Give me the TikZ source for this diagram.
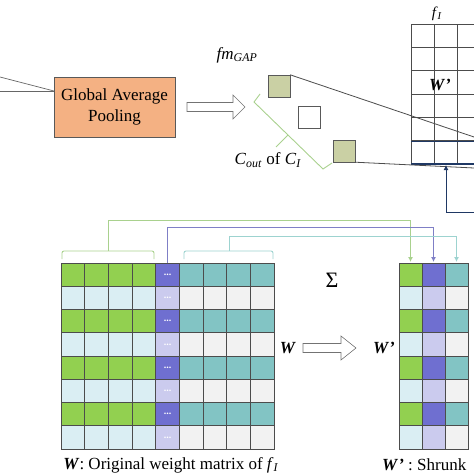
\documentclass[tikz,border=0pt]{standalone}
\usepackage{fontspec}
\setmainfont{Liberation Serif}
\usetikzlibrary{arrows.meta, positioning}

\definecolor{gapfill}{HTML}{F4B183}
\definecolor{sqfill}{HTML}{CAD0A4}
\definecolor{brgreen}{HTML}{A9D18E}
\definecolor{brblue}{HTML}{7F7FC6}
\definecolor{brteal}{HTML}{9DD3D0}
\definecolor{cgreen}{HTML}{92D050}
\definecolor{cpurple}{HTML}{6F6FD0}
\definecolor{cteal}{HTML}{82C4C4}
\definecolor{clblue}{HTML}{DAEEF3}
\definecolor{cllav}{HTML}{CBCBEE}
\definecolor{clgray}{HTML}{F2F2F2}
\definecolor{navy}{HTML}{1F3864}

\tikzset{
  big/.style={font=\fontsize{17}{21}\selectfont},
  gapbox/.style={draw=black!65, fill=gapfill, minimum width=121pt, minimum height=60pt, align=center, big},
  sqbox/.style={draw=black!65, minimum size=22pt, inner sep=0pt},
  hollow/.style={draw=black!55, fill=white, line width=0.6pt},
  thinline/.style={draw=black!60, line width=0.7pt},
  gbrack/.style={draw=brgreen, line width=0.9pt},
  bbrack/.style={draw=brblue, line width=0.9pt},
  tbrack/.style={draw=brteal, line width=0.9pt},
  cell/.style={draw=black!70, line width=0.6pt},
  dots/.style={text=white, font=\fontsize{10}{10}\bfseries\selectfont, inner sep=0pt},
  tip/.style={-{Latex[length=5pt,width=5pt]}}
}

\begin{document}
\begin{tikzpicture}[x=1pt, y=-1pt]
\useasboundingbox (0,0) rectangle (474,474);

    % Global average pooling
    \node[gapbox] (gap) at (114.5,107) {Global Average\\Pooling};
    \coordinate (gapin) at (54,91);
    \coordinate (in1) at (0,77);
    \coordinate (in2) at (0,91);
    \draw[thinline] (in1) -- (gapin);
    \draw[thinline] (in2) -- (gapin);

    % Hollow arrow
    \draw[hollow] (187,102.5) -- (233,102.5) -- (233,95) -- (245,107) -- (233,119) -- (233,111.5) -- (187,111.5) -- cycle;

    % fm_GAP
    \node[big] (fmlab) at (237,55) {\textit{fm}\textsubscript{\textit{GAP}}};
    \node[sqbox, fill=sqfill] (sq1) at (279,86) {};
    \node[sqbox, fill=white] (sq2) at (309.5,117.5) {};
    \node[sqbox, fill=sqfill] (sq3) at (344,151) {};
    \draw[gbrack] (260,94) -- (254,102) -- (323,169) -- (332,163);
    \draw[gbrack] (288,135) -- (276,147);
    \node[big] (cout) at (268,160) {\textit{C}\textsubscript{\textit{out}} of \textit{C}\textsubscript{\textit{I}}};

    % Grid of f1
    \foreach \k in {0,...,6} {
        \draw[cell] (411,24+\k*23.33) -- (474,24+\k*23.33);
    }
    \foreach \c in {0,1,2} {
        \draw[cell] (411+\c*23.3,24) -- (411+\c*23.3,164);
    }
    \draw[navy, line width=0.9pt] (411,141) -- (474,141);
    \draw[navy, line width=1.4pt] (411,164) -- (474,164);
    \node[font=\fontsize{15}{15}\selectfont] (flab) at (437,14) {\textit{f}\textsubscript{\textit{I}}};
    \node[big] (wtop) at (440,85) {\textbf{\textit{W\kern1pt’}}};

    % Lines from the maps
    \coordinate (e1) at (474,137);
    \coordinate (e2) at (474,168);
    \draw[black!70, line width=0.8pt] (sq1.north east) -- (e1);
    \draw[black!70, line width=0.8pt] (sq3.south east) -- (e2);

    % Navy feedback
    \coordinate (nin) at (474,212);
    \coordinate (fbot) at (446,165);
    \draw[navy, line width=1pt, tip] (nin) -| (fbot);

    % Matrices W and W'
    \foreach \r in {0,...,7} {
        \ifodd\r\relax
            \def\ca{clblue}\def\cb{cllav}\def\cc{clgray}
        \else
            \def\ca{cgreen}\def\cb{cpurple}\def\cc{cteal}
        \fi
        \foreach \c in {0,...,3} {
            \draw[cell, fill=\ca] (61+\c*23.67,263+\r*23.25) rectangle ++(23.67,23.25);
        }
        \draw[cell, fill=\cb] (155.68,263+\r*23.25) rectangle ++(23.67,23.25) node[midway, dots] {...};
        \foreach \c in {5,...,8} {
            \draw[cell, fill=\cc] (61+\c*23.67,263+\r*23.25) rectangle ++(23.67,23.25);
        }
        % shrunk
        \draw[cell, fill=\ca] (399,263+\r*23.25) rectangle ++(23,23.25);
        \draw[cell, fill=\cb] (422,263+\r*23.25) rectangle ++(23,23.25);
        \draw[cell, fill=\cc] (445,263+\r*23.25) rectangle ++(23,23.25);
    }

    % Brackets and connections
    \coordinate (gtar) at (410.5,262);
    \coordinate (btar) at (433.5,262);
    \coordinate (ttar) at (456.5,262);
    \draw[gbrack, rounded corners=2pt] (62,259) -- (62,251) -- (154,251) -- (154,259);
    \draw[gbrack, tip] (108,251) -- (108,220) -| (gtar);
    \draw[bbrack, tip] (167.5,263) -- (167.5,227) -| (btar);
    \draw[tbrack, rounded corners=2pt] (184,259) -- (184,251) -- (273,251) -- (273,259);
    \draw[tbrack, tip] (229,251) -- (229,236) -| (ttar);

    % Sigma and arrow
    \node[font=\fontsize{22}{22}\selectfont] (sig) at (332,280) {Σ};
    \node[big] (wlab) at (288,348) {\textbf{\textit{W}}};
    \draw[hollow] (303,343.5) -- (341,343.5) -- (341,336) -- (356,348) -- (341,360) -- (341,352.5) -- (303,352.5) -- cycle;
    \node[big] (wplab) at (384,348) {\textbf{\textit{W\kern1pt’}}};

    % Captions
    \node[big] (wcap) at (171,465) {\textbf{\textit{W}}: Original weight matrix of \textit{f}\textsubscript{\textit{I}}};
    \node[big, anchor=west, inner sep=0pt] (wpcap) at (382,465) {\textbf{\textit{W\kern1pt’}} : Shrunk};
\end{tikzpicture}
\end{document}
